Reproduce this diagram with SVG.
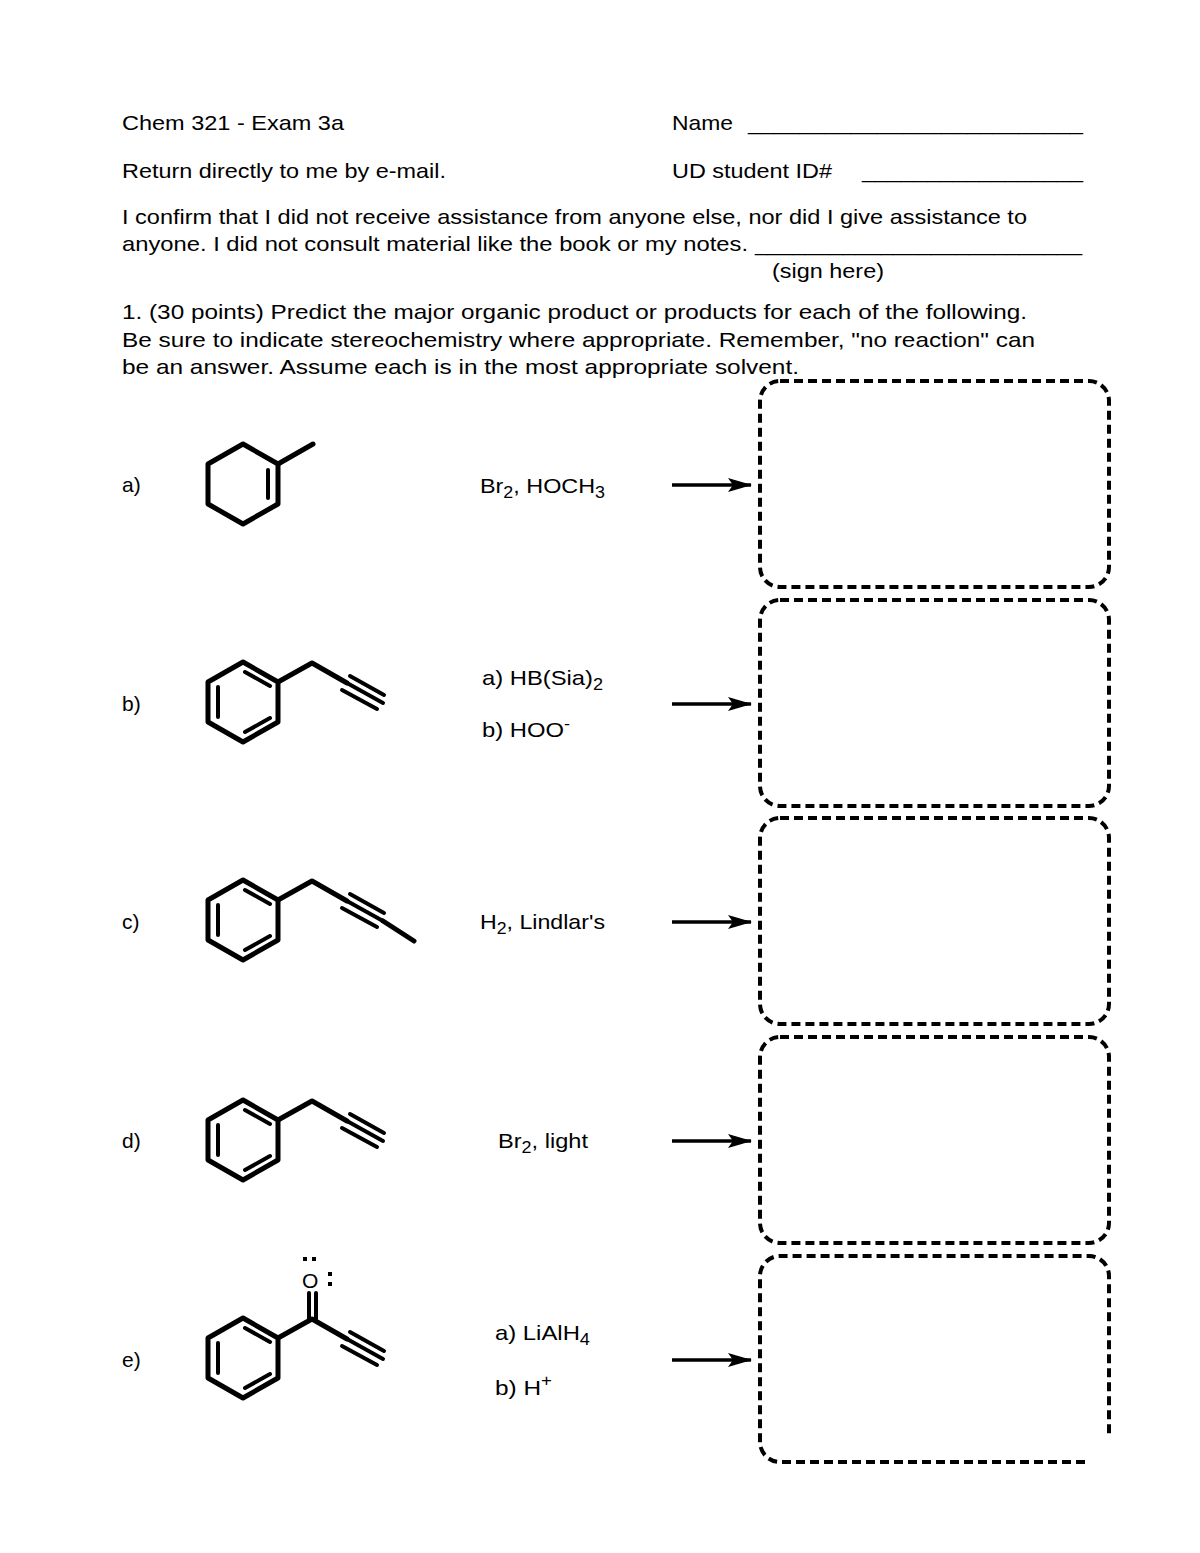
<svg xmlns="http://www.w3.org/2000/svg" width="1200" height="1553" viewBox="0 0 1200 1553">
<style>
text{font-family:"Liberation Sans",Arial,sans-serif;font-size:21px;fill:#000}
.b{stroke:#000;stroke-width:5;fill:none;stroke-linejoin:round;stroke-linecap:round}
.t{stroke:#000;stroke-width:4;fill:none;stroke-linecap:round}
.box{stroke:#000;stroke-width:4;fill:none;stroke-dasharray:9 5}
.ar{stroke:#000;stroke-width:3.5}
.sub{font-size:16px}
</style>
<defs>
<marker id="ah" markerWidth="24" markerHeight="16" refX="23" refY="8" orient="auto" markerUnits="userSpaceOnUse" viewBox="0 0 24 16"><path d="M0,1 L24,8 L0,15 L5,8 Z" fill="#000"/></marker>
<g id="benz">
<polygon class="b" points="0,-40 35,-20 35,20 0,40 -35,20 -35,-20"/>
<line class="t" x1="2" y1="-30" x2="27" y2="-16"/>
<line class="t" x1="-25" y1="-15" x2="-25" y2="15"/>
<line class="t" x1="2" y1="30" x2="27" y2="16"/>
</g>
</defs>
<g id="header">
<text x="122" y="130" textLength="222" lengthAdjust="spacingAndGlyphs">Chem 321 - Exam 3a</text>
<text x="672" y="130" textLength="61" lengthAdjust="spacingAndGlyphs">Name</text>
<text x="748" y="130" textLength="335" lengthAdjust="spacingAndGlyphs">__________________________</text>
<text x="122" y="178" textLength="324" lengthAdjust="spacingAndGlyphs">Return directly to me by e-mail.</text>
<text x="672" y="178" textLength="160" lengthAdjust="spacingAndGlyphs">UD student ID#</text>
<text x="862" y="178" textLength="221" lengthAdjust="spacingAndGlyphs">_________________</text>
<text x="122" y="224" textLength="905" lengthAdjust="spacingAndGlyphs">I confirm that I did not receive assistance from anyone else, nor did I give assistance to</text>
<text x="122" y="251" textLength="626" lengthAdjust="spacingAndGlyphs">anyone.  I did not consult material like the book or my notes.</text>
<text x="755" y="251" textLength="327" lengthAdjust="spacingAndGlyphs">__________________________</text>
<text x="772" y="278" textLength="112" lengthAdjust="spacingAndGlyphs">(sign here)</text>
<text x="122" y="319" textLength="905" lengthAdjust="spacingAndGlyphs">1. (30 points) Predict the major organic product or products for each of the following.</text>
<text x="122" y="347" textLength="913" lengthAdjust="spacingAndGlyphs">Be sure to indicate stereochemistry where appropriate. Remember, "no reaction" can</text>
<text x="122" y="374" textLength="677" lengthAdjust="spacingAndGlyphs">be an answer. Assume each is in the most appropriate solvent.</text>
</g>
<g id="labels">
<text x="122" y="492">a)</text>
<text x="122" y="711">b)</text>
<text x="122" y="929">c)</text>
<text x="122" y="1148">d)</text>
<text x="122" y="1367">e)</text>
</g>
<g id="mol-a">
<polygon class="b" points="243,444 278,464 278,504 243,524 208,504 208,464"/>
<line class="t" x1="268" y1="470" x2="268" y2="498"/>
<line class="b" x1="278" y1="464" x2="313" y2="444"/>
</g>
<g id="mol-b">
<use href="#benz" x="243" y="702"/>
<polyline class="b" points="278,682 312,663 347,683"/>
<line class="t" x1="347" y1="683" x2="383" y2="703"/>
<line class="t" x1="350" y1="676" x2="384" y2="695"/>
<line class="t" x1="342" y1="690" x2="377" y2="709"/>
</g>
<g id="mol-c">
<use href="#benz" x="243" y="920"/>
<polyline class="b" points="278,900 312,881 347,901"/>
<line class="t" x1="347" y1="901" x2="383" y2="921"/>
<line class="t" x1="350" y1="894" x2="384" y2="913"/>
<line class="t" x1="342" y1="908" x2="377" y2="927"/>
<line class="b" x1="383" y1="921" x2="414" y2="941"/>
</g>
<g id="mol-d">
<use href="#benz" x="243" y="1140"/>
<polyline class="b" points="278,1120 312,1101 347,1121"/>
<line class="t" x1="347" y1="1121" x2="383" y2="1141"/>
<line class="t" x1="350" y1="1114" x2="384" y2="1133"/>
<line class="t" x1="342" y1="1128" x2="377" y2="1147"/>
</g>
<g id="mol-e">
<use href="#benz" x="243" y="1358"/>
<polyline class="b" points="278,1338 312,1319 347,1339"/>
<line class="t" x1="347" y1="1339" x2="383" y2="1359"/>
<line class="t" x1="350" y1="1332" x2="384" y2="1351"/>
<line class="t" x1="342" y1="1346" x2="377" y2="1365"/>
<line class="t" x1="309" y1="1293" x2="309" y2="1319"/>
<line class="t" x1="316" y1="1293" x2="316" y2="1319"/>
<text x="302" y="1288">O</text>
<rect x="303" y="1257" width="4" height="4"/><rect x="312" y="1257" width="4" height="4"/>
<rect x="328" y="1272" width="4" height="4"/><rect x="328" y="1282" width="4" height="4"/>
</g>
<g id="reagents">
<text x="480" y="493" textLength="125" lengthAdjust="spacingAndGlyphs">Br<tspan class="sub" dy="5">2</tspan><tspan dy="-5">, HOCH</tspan><tspan class="sub" dy="5">3</tspan></text>
<text x="482" y="685" textLength="121" lengthAdjust="spacingAndGlyphs">a) HB(Sia)<tspan class="sub" dy="5">2</tspan></text>
<text x="482" y="737" textLength="88" lengthAdjust="spacingAndGlyphs">b) HOO<tspan class="sub" dy="-8">-</tspan></text>
<text x="480" y="929" textLength="125" lengthAdjust="spacingAndGlyphs">H<tspan class="sub" dy="5">2</tspan><tspan dy="-5">, Lindlar's</tspan></text>
<text x="498" y="1148" textLength="90" lengthAdjust="spacingAndGlyphs">Br<tspan class="sub" dy="5">2</tspan><tspan dy="-5">, light</tspan></text>
<text x="495" y="1340" textLength="95" lengthAdjust="spacingAndGlyphs">a) LiAlH<tspan class="sub" dy="5">4</tspan></text>
<text x="495" y="1395" textLength="57" lengthAdjust="spacingAndGlyphs">b) H<tspan class="sub" dy="-9">+</tspan></text>
</g>
<g id="connectors">
<line class="ar" x1="672" y1="485" x2="751" y2="485" marker-end="url(#ah)"/>
<line class="ar" x1="672" y1="704" x2="751" y2="704" marker-end="url(#ah)"/>
<line class="ar" x1="672" y1="922" x2="751" y2="922" marker-end="url(#ah)"/>
<line class="ar" x1="672" y1="1141" x2="751" y2="1141" marker-end="url(#ah)"/>
<line class="ar" x1="672" y1="1360" x2="751" y2="1360" marker-end="url(#ah)"/>
</g>
<g id="boxes">
<rect class="box" x="760" y="381" width="349" height="206" rx="20"/>
<rect class="box" x="760" y="600" width="349" height="206" rx="20"/>
<rect class="box" x="760" y="818" width="349" height="206" rx="20"/>
<rect class="box" x="760" y="1037" width="349" height="206" rx="20"/>
<path class="box" d="M1085,1462 H780 A20,20 0 0 1 760,1442 V1276 A20,20 0 0 1 780,1256 H1089 A20,20 0 0 1 1109,1276 V1438"/>
</g>
</svg>
